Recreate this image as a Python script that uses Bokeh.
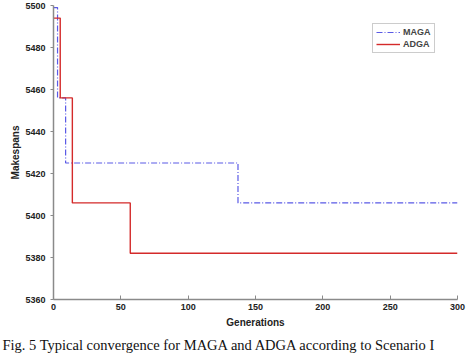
from bokeh.plotting import figure
from bokeh.models import Range1d, FixedTicker, Legend, LegendItem, Title
from bokeh.embed import file_html
from bokeh.resources import INLINE

# MAGA step data (generation, makespan)
maga_x = [0, 3, 3, 9, 9, 137, 137, 300]
maga_y = [5499, 5499, 5456, 5456, 5425, 5425, 5406, 5406]
# ADGA step data
adga_x = [0, 5, 5, 14, 14, 57, 57, 300]
adga_y = [5494, 5494, 5456, 5456, 5406, 5406, 5382, 5382]

x_ticks = [0, 50, 100, 150, 200, 250, 300]
y_ticks = [5360, 5380, 5400, 5420, 5440, 5460, 5480, 5500]

caption = "Fig. 5 Typical convergence for MAGA and ADGA according to Scenario I"

W, H = 474, 356
BL, BR, BT, BB = 53, 17, 5, 57
x0, x1, y0, y1 = 0, 300, 5360, 5500

p = figure(width=W, height=H, output_backend="svg", toolbar_location=None,
           x_range=Range1d(x0, x1), y_range=Range1d(y0, y1),
           min_border_left=BL, min_border_right=BR, min_border_top=BT, min_border_bottom=BB)
p.outline_line_color = None
p.grid.visible = False

r1 = p.line(maga_x, maga_y, line_color="#5a5ae6", line_width=1.2, line_dash="6 2 1 2")
r2 = p.line(adga_x, adga_y, line_color="#d42a2a", line_width=1.4)

for ax in (p.xaxis, p.yaxis):
    ax.axis_line_color = "#8a8a8a"
    ax.axis_line_width = 1.5
    ax.major_tick_line_color = "#8a8a8a"
    ax.minor_tick_line_color = None
    ax.major_label_text_font = "Liberation Sans"
    ax.major_label_text_font_style = "bold"
    ax.major_label_text_font_size = "9px"
    ax.major_label_text_color = "#222222"
    ax.axis_label_text_font = "Liberation Sans"
    ax.axis_label_text_font_style = "bold"
    ax.axis_label_text_font_size = "10px"
    ax.axis_label_text_color = "#222222"

p.xaxis.ticker = FixedTicker(ticks=x_ticks)
p.yaxis.ticker = FixedTicker(ticks=y_ticks)
p.xaxis.major_tick_in = 4
p.xaxis.major_tick_out = 0
p.yaxis.major_tick_in = 0
p.yaxis.major_tick_out = 3
p.xaxis.axis_label = "Generations"
p.yaxis.axis_label = "Makespans"
p.xaxis.axis_label_standoff = 4
p.yaxis.axis_label_standoff = 1
p.xaxis.major_label_standoff = 4

fw = W - BL - BR
fh = H - BT - BB
legend = Legend(items=[LegendItem(label="MAGA", renderers=[r1]),
                       LegendItem(label="ADGA", renderers=[r2])],
                location=(372 - BL, fh - (23 - BT) - 30), margin=0)
legend.label_text_font = "Liberation Sans"
legend.label_text_font_style = "bold"
legend.label_text_font_size = "9px"
legend.label_height = 10
legend.glyph_height = 10
legend.glyph_width = 24
legend.label_standoff = 3
legend.spacing = 2
legend.padding = 3
legend.border_line_color = "#999999"
legend.border_line_width = 1
legend.background_fill_alpha = 1
p.add_layout(legend)

cap = Title(text=caption, align="left", text_font="Liberation Serif",
            text_font_size="14.5px", text_font_style="normal", text_color="#111111",
            offset=-51, standoff=8)
p.add_layout(cap, "below")

open("out.html", "w").write(file_html(p, INLINE))
